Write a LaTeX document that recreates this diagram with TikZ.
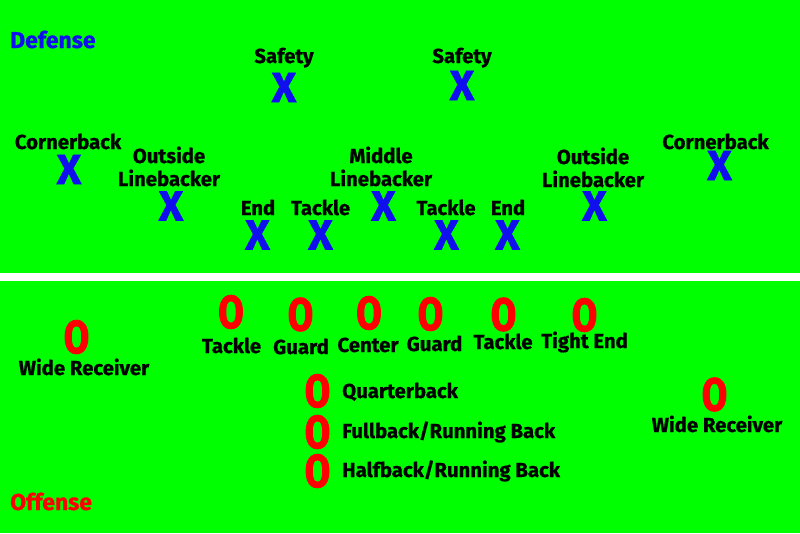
\documentclass[tikz,border=0pt]{standalone}
\usepackage{fontspec}
\setmainfont{Fira Sans}
\definecolor{field}{RGB}{0,255,0}
\definecolor{defblue}{RGB}{16,16,238}
\definecolor{offred}{RGB}{255,0,0}
\newcommand{\offO}{\scalebox{0.8}[1]{O}}

\begin{document}
\begin{tikzpicture}[x=1pt,y=-1pt]

\tikzset{
  lbl/.style={inner sep=0pt, anchor=base, align=center,
    font=\fontsize{20.3}{23}\selectfont\bfseries\addfontfeature{FakeBold=0.8}},
  side/.style={inner sep=0pt, anchor=base west,
    font=\fontsize{23}{23}\selectfont\bfseries\addfontfeature{FakeBold=0.8}},
  xmark/.style={inner sep=0pt, text=defblue,
    font=\fontsize{42}{42}\selectfont\bfseries\addfontfeature{FakeBold=1.5}},
  omark/.style={inner sep=0pt, text=offred,
    font=\fontsize{46}{46}\selectfont\bfseries\addfontfeature{FakeBold=2.5}}
}

\fill[field] (0,0) rectangle (800,533);
\fill[white] (0,273) rectangle (800,281);
\useasboundingbox (0,0) rectangle (800,533);

% defense
\node[side, text=defblue] (def) at (10,48) {Defense};

\node[lbl] (safL) at (284,63) {Safety};
\node[xmark] (safLx) at (284,87.5) {X};
\node[lbl] (safR) at (462,63) {Safety};
\node[xmark] (safRx) at (462,85.5) {X};

\node[lbl] (cbL) at (68,149) {Cornerback};
\node[xmark] (cbLx) at (69,169.5) {X};
\node[lbl] (cbR) at (715.5,149) {Cornerback};
\node[xmark] (cbRx) at (719.5,165.5) {X};

\node[lbl] (olbL) at (169,186) {Outside\\Linebacker};
\node[xmark] (olbLx) at (171,206) {X};
\node[lbl] (mlb) at (381,186) {Middle\\Linebacker};
\node[xmark] (mlbx) at (383.5,206) {X};
\node[lbl] (olbR) at (593,187) {Outside\\Linebacker};
\node[xmark] (olbRx) at (594.5,206) {X};

\node[lbl] (endL) at (258,215) {End};
\node[xmark] (endLx) at (257.5,235) {X};
\node[lbl] (tacL) at (320.5,215) {Tackle};
\node[xmark] (tacLx) at (320.5,235) {X};
\node[lbl] (tacR) at (446,215) {Tackle};
\node[xmark] (tacRx) at (446.5,235) {X};
\node[lbl] (endR) at (508,215) {End};
\node[xmark] (endRx) at (507.5,235) {X};

% offense
\node[side, text=offred] (off) at (10,510) {Offense};

\node[omark] (wrLo) at (76.5,337) {\offO};
\node[lbl] (wrL) at (84,375) {Wide Receiver};
\node[omark] (wrRo) at (714.5,394.5) {\offO};
\node[lbl] (wrR) at (717,432) {Wide Receiver};

\node[omark] (tacLo) at (231,312) {\offO};
\node[lbl] (otacL) at (231.5,353) {Tackle};
\node[omark] (grdLo) at (300.5,314.5) {\offO};
\node[lbl] (grdL) at (301,354) {Guard};
\node[omark] (cenO) at (369,313) {\offO};
\node[lbl] (cen) at (368,352) {Center};
\node[omark] (grdRo) at (430.5,314) {\offO};
\node[lbl] (grdR) at (434.5,351) {Guard};
\node[omark] (tacRo) at (503.5,314.5) {\offO};
\node[lbl] (otacR) at (503,349) {Tackle};
\node[omark] (teO) at (584.5,315) {\offO};
\node[lbl] (te) at (584.5,348) {Tight End};

\node[omark] (qbO) at (317.5,391) {\offO};
\node[lbl, anchor=base west] (qb) at (342,398) {Quarterback};
\node[omark] (fbO) at (317.5,432) {\offO};
\node[lbl, anchor=base west] (fb) at (342,438) {Fullback/Running Back};
\node[omark] (hbO) at (317.5,471) {\offO};
\node[lbl, anchor=base west] (hb) at (342,477) {Halfback/Running Back};

\end{tikzpicture}
\end{document}
